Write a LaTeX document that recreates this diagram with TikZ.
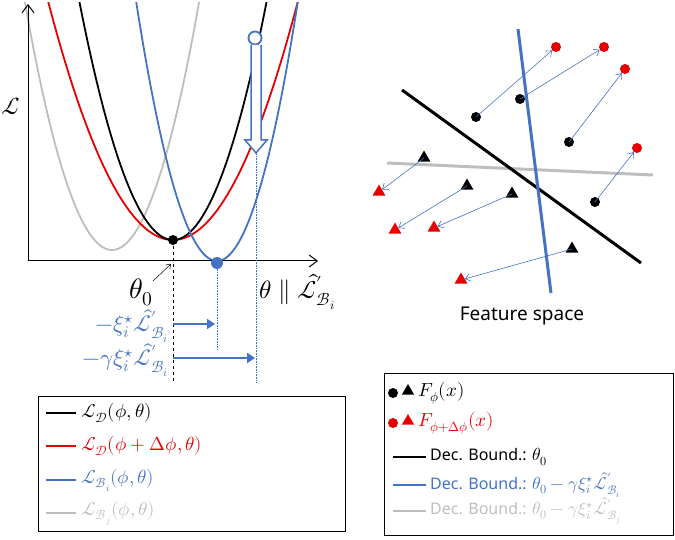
\documentclass[tikz,border=0pt]{standalone}
\usepackage{amsmath}
\usepackage{unicode-math}
\setmathfont{Latin Modern Math}
\setsansfont{Noto Sans}
\usetikzlibrary{arrows.meta,shapes.geometric}
\definecolor{bl}{RGB}{68,114,196}
\definecolor{rd}{RGB}{230,0,0}
\definecolor{gr}{RGB}{190,190,190}
\newcommand{\Lh}{{\hat{\mathcal{L}}}'}
\tikzset{
 curve/.style={line width=1.8pt},
 bdot/.style={circle,fill=black,inner sep=0,minimum size=10pt},
 rdot/.style={circle,fill=rd,inner sep=0,minimum size=10pt},
 btri/.style={regular polygon,regular polygon sides=3,fill=black,inner sep=0,minimum size=15pt},
 rtri/.style={regular polygon,regular polygon sides=3,fill=rd,inner sep=0,minimum size=15pt},
 mv/.style={bl,line width=0.6pt,-{Straight Barb[length=5pt,width=8pt]}},
 lg/.style={anchor=west,font=\fontsize{19}{21}\selectfont,inner sep=0},
}
\begin{document}
\begin{tikzpicture}[x=1pt,y=-1pt]
\useasboundingbox (0,0) rectangle (675,540);
% curves
\begin{scope}
\clip (0,3) rectangle (345,272);
\draw[curve,gr] plot[domain=24:202,samples=80] (\x,{250-3.27*((\x-112)/10)^2});
\draw[curve,rd] plot[domain=46:302,samples=80] (\x,{240-1.53*((\x-173)/10)^2});
\draw[curve,black] plot[domain=76:272,samples=80] (\x,{240-2.72*((\x-173)/10)^2});
\draw[curve,bl] plot[domain=134:300,samples=80] (\x,{261-3.97*((\x-217)/10)^2});
\end{scope}
% axes
\draw[line width=1pt,-{Straight Barb[length=8pt,width=12pt]}] (28,261) -- (28,4);
\draw[line width=1pt,-{Straight Barb[length=8pt,width=12pt]}] (28,261) -- (318,261);
\node[font=\fontsize{24}{26}\selectfont] (L) at (11,106) {$\mathcal{L}$};
% guide lines
\coordinate (d0) at (173,383);
\coordinate (d1a) at (217,264); \coordinate (d1) at (217,350);
\coordinate (d2a) at (256,148); \coordinate (d2) at (256,383);
\node[bdot] (m0) at (173,240) {};
\node[circle,fill=bl,inner sep=0,minimum size=12pt] (m1) at (217,263) {};
\draw[dashed,line width=0.5pt] (m0.center) -- (d0);
\draw[bl,densely dotted,line width=0.6pt] (d1a) -- (d1);
\draw[bl,densely dotted,line width=0.6pt] (d2a) -- (d2);
% hollow arrow
\node[circle,draw=bl,fill=white,line width=1.8pt,inner sep=0,minimum size=13pt] (oc) at (255,38) {};
\draw[bl,fill=white,line width=1.5pt] (251,45) -- (251,140) -- (245,140) -- (256,153) -- (267,140) -- (261,140) -- (261,45);
% labels
\node[font=\fontsize{28}{30}\selectfont] (t0) at (141,292) {$\theta_0$};
\coordinate (t0a) at (171,264);
\draw[line width=0.5pt,-{Straight Barb[length=4pt,width=6pt]}] (153,281) -- (t0a);
\node[anchor=west,font=\fontsize{25}{27}\selectfont,inner sep=0] (tl) at (259,292) {$\theta\parallel\Lh_{\mathcal{B}_i}$};
\coordinate (a0) at (173,324); \coordinate (a1) at (215,324);
\coordinate (b0) at (173,358); \coordinate (b1) at (255,358);
\draw[bl,line width=2.5pt,-{Triangle[length=8pt,width=10pt]}] (a0) -- (a1);
\draw[bl,line width=2.5pt,-{Triangle[length=8pt,width=10pt]}] (b0) -- (b1);
\node[anchor=east,bl,font=\fontsize{23}{25}\selectfont,inner sep=0] (la) at (169,326) {$-\xi_i^\star\Lh_{\mathcal{B}_i}$};
\node[anchor=east,bl,font=\fontsize{23}{25}\selectfont,inner sep=0] (lb) at (169,360) {$-\gamma\xi_i^\star\Lh_{\mathcal{B}_i}$};
% left legend
\draw[line width=0.8pt] (38,396) rectangle (345,531);
\foreach \y/\c/\t in {413/black/{$\mathcal{L}_{\mathcal{D}}(\phi,\theta)$},446/rd/{$\mathcal{L}_{\mathcal{D}}(\phi+\Delta\phi,\theta)$},480/bl/{$\mathcal{L}_{\mathcal{B}_i}(\phi,\theta)$},513/gr/{$\mathcal{L}_{\mathcal{B}_j}(\phi,\theta)$}}{
 \draw[\c,line width=1.5pt] (46,\y) -- (76,\y);
 \node[lg,text=\c] at (81,\y) {\t};
}
% right legend
\draw[line width=0.8pt] (384,373) rectangle (673,535);
\node[circle,fill=black,inner sep=0,minimum size=10pt] (k1) at (393,393) {};
\node[regular polygon,regular polygon sides=3,fill=black,inner sep=0,minimum size=14pt] (k2) at (408,391) {};
\node[lg] (k3) at (418,393) {$F_\phi(x)$};
\node[circle,fill=rd,inner sep=0,minimum size=10pt] (k4) at (393,423) {};
\node[regular polygon,regular polygon sides=3,fill=rd,inner sep=0,minimum size=14pt] (k5) at (408,421) {};
\node[lg,text=rd] (k6) at (418,423) {$F_{\phi+\Delta\phi}(x)$};
\foreach \y/\c/\t in {457/black/{$\theta_0$},485/bl/{$\theta_0-\gamma\xi_i^\star\Lh_{\mathcal{B}_i}$},511/gr/{$\theta_0-\gamma\xi_i^\star\Lh_{\mathcal{B}_j}$}}{
 \draw[\c,line width=1.5pt] (393,\y) -- (426,\y);
 \node[lg,text=\c,font=\fontsize{17.5}{19}\selectfont] at (430,\y) {{\sffamily\fontsize{16}{18}\selectfont Dec. Bound.: }\t};
}
% feature space
\draw[gr,line width=3pt] (387,163) -- (653,175);
\draw[black,line width=3pt] (402,90) -- (641,263);
\draw[bl,line width=3pt] (518,29) -- (551,293);
\node[bdot] (c1) at (476,117) {}; \node[rdot] (r1) at (556,47) {};
\node[bdot] (c2) at (520,99) {};  \node[rdot] (r2) at (604,47) {};
\node[bdot] (c3) at (569,142) {}; \node[rdot] (r3) at (625,69) {};
\node[bdot] (c4) at (595,202) {}; \node[rdot] (r4) at (637,148) {};
\node[btri] (t1) at (424,158) {}; \node[rtri] (s1) at (379,192) {};
\node[btri] (t2) at (467,186) {}; \node[rtri] (s2) at (395,230) {};
\node[btri] (t3) at (512,194) {}; \node[rtri] (s3) at (434,228) {};
\node[btri] (t4) at (572,249) {}; \node[rtri] (s4) at (461,280) {};
\foreach \a/\b in {c1/r1,c2/r2,c3/r3,c4/r4,t1/s1,t2/s2,t3/s3,t4/s4}
 \draw[mv] (\a.center) -- (\b);
\node[font=\sffamily\fontsize{19}{21}\selectfont] (fs) at (522,316) {Feature space};
\end{tikzpicture}
\end{document}
